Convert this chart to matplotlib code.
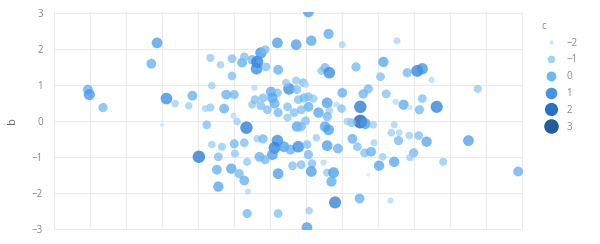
import numpy as np
import matplotlib.pyplot as plt
from matplotlib.colors import LinearSegmentedColormap, Normalize
from matplotlib.lines import Line2D

# points: a (x), b (y), c (hue/size)
a = [-3.03, -3.01, -2.82, -2.07, -2.15, -1.94, -1.82, -2.00, -1.58, -1.63,
     -1.49, 0.03, 0.31, -0.40, -0.14, 0.07, 0.50, -1.33, -1.19, -1.03,
     -0.89, -0.86, -0.75, -0.68, -0.63, -0.57, -0.69, -0.56, -0.39, -1.03,
     0.21, 0.26, 0.32, 0.69, 1.07, 1.03, 1.26, 1.40, 1.54, 1.61,
     1.74, 2.38, -1.31, -1.11, -1.00, -0.72, -0.49, -0.40, -0.24, -0.28,
     -0.14, -0.04, 0.00, -0.13, -1.33, -1.40, -1.14, -1.01, -0.75, -0.71,
     -0.63, -0.60, -0.47, -0.44, -0.54, -0.39, -0.26, -0.17, -0.11, -0.03,
     0.03, 0.10, 0.03, -0.07, 0.17, 0.29, 0.42, 0.32, 0.49, 0.50,
     0.75, 0.79, 0.86, 1.11, 1.24, 1.35, 1.44, 1.57, 1.61, 1.81,
     0.29, 0.75, 0.82, 0.93, 0.63, 0.57, 1.22, -1.38, -0.96, -0.83,
     -0.26, -0.13, -0.01, 0.26, 0.31, -0.07, -1.31, -1.17, -1.00, -0.86,
     -0.68, -0.60, -0.40, -0.44, -0.47, -0.31, -0.22, -0.11, 0.01, 0.14,
     0.29, 0.44, 0.64, 0.71, 0.81, 0.90, 0.94, 1.06, 1.01, 1.18,
     1.29, 1.28, 1.43, 1.56, 1.67, 2.25, 1.22, 1.49, 1.44, 1.90,
     2.94, -1.22, -0.99, -0.65, -0.57, -0.82, 0.03, 0.08, 0.24, -0.07,
     -0.19, -1.24, -1.04, -0.93, -0.86, -0.81, -1.22, -0.39, 0.07, 0.29,
     0.38, 0.35, 0.86, 0.40, 0.74, 1.17, 0.04, -0.82, -0.39, 0.01]

b = [0.88, 0.74, 0.38, 2.18, 1.60, 0.63, 0.49, -0.10, 0.71, 0.43,
     -0.99, 3.04, 2.43, 2.18, 2.13, 2.24, 2.13, 1.76, 1.57, 1.74,
     1.63, 1.79, 1.71, 1.65, 1.90, 1.99, 1.46, 1.51, 1.43, 1.26,
     1.40, 1.49, 1.35, 1.51, 1.65, 1.24, 2.24, 1.35, 1.40, 1.46,
     1.15, 0.90, 0.99, 0.74, 0.74, 0.93, 0.82, 0.79, 0.90, 1.07,
     1.13, 1.07, 1.01, 0.88, 0.38, 0.35, 0.35, 0.15, 0.46, 0.60,
     0.43, 0.65, 0.65, 0.49, 0.32, 0.24, 0.40, 0.24, 0.60, 0.65,
     0.68, 0.63, 0.40, 0.32, 0.24, 0.51, 0.46, 0.29, 0.35, 0.79,
     0.40, 0.76, 0.90, 0.76, 0.54, 0.46, 0.38, 0.32, 0.63, 0.40,
     0.13, -0.01, -0.07, -0.10, -0.04, -0.01, -0.10, -0.10, -0.01, -0.18,
     0.10, -0.15, 0.01, -0.15, -0.24, -0.15, -0.65, -0.71, -0.63, -0.60,
     -0.49, -0.49, -0.54, -0.74, -0.93, -0.71, -0.79, -0.71, -0.65, -0.46,
     -0.68, -0.76, -0.49, -0.71, -0.88, -0.85, -0.60, -0.99, -1.24, -0.32,
     -0.32, -0.54, -0.40, -0.40, -0.57, -0.54, -1.13, -0.88, -1.01, -1.13,
     -1.40, -0.99, -0.90, -0.99, -1.07, -1.13, -0.93, -1.18, -1.15, -1.21,
     -1.24, -1.35, -1.32, -1.46, -1.65, -1.96, -1.82, -1.46, -1.40, -1.43,
     -1.43, -1.68, -1.49, -2.26, -2.15, -2.21, -2.49, -2.57, -2.57, -2.96]

c = [0.0, 0.7, -0.3, 0.5, 0.0, 1.0, -1.0, -2.0, 0.0, -1.0,
     1.5, 0.5, 0.2, 0.5, 0.5, 0.3, -1.2, -0.8, -1.0, -0.5,
     0.0, -0.5, -0.2, 1.3, 0.8, -0.5, 1.0, -0.5, 0.0, -0.5,
     -0.8, -0.3, 1.0, -0.3, 0.3, -0.5, -1.3, -0.3, 1.2, 0.8,
     -1.5, -0.8, -1.0, 0.0, -0.3, -1.5, 0.2, -0.5, 1.0, -0.8,
     -0.8, -0.5, -1.5, -0.5, -0.8, -1.2, 0.0, -1.5, -0.8, -0.5,
     -0.5, -0.5, 0.3, 0.1, -0.5, -0.3, -0.5, -0.5, -0.5, -0.3,
     -0.5, -0.8, 0.0, -0.5, 0.3, 0.5, -1.5, -1.0, -0.6, 0.0,
     1.5, -0.2, -0.3, -0.5, -1.5, 0.2, -1.8, -0.3, -0.5, 1.3,
     -0.3, 2.4, 0.5, -1.0, -0.5, -1.0, -1.2, -0.5, -1.0, 1.5,
     -0.8, 0.3, -0.5, 0.3, 0.5, -0.3, -1.0, -0.8, -0.3, -0.5,
     -1.0, -0.3, 1.0, 1.2, 0.5, 0.5, 0.0, 1.0, -0.5, -1.0,
     0.5, 0.0, 0.0, -0.5, -0.5, 0.0, -1.2, -1.0, 0.3, -1.0,
     -1.3, -0.3, -1.0, -0.5, 0.3, 0.5, 0.3, -0.3, -1.0, -0.8,
     0.0, -0.5, -0.8, 0.0, -0.3, -0.8, -0.3, -0.5, -1.5, -0.5,
     -0.5, 0.0, 0.3, -0.3, 0.0, -1.5, 0.3, 0.5, 0.5, -0.8,
     0.5, 0.2, -2.2, 1.3, 0.0, -1.5, -1.0, -0.3, -0.5, 0.5]

legend_levels = [-2, -1, 0, 1, 2, 3]

plt.rcParams['font.family'] = ['Open Sans', 'DejaVu Sans']

norm = Normalize(vmin=-2.3, vmax=3.0)
cmap = LinearSegmentedColormap.from_list(
    'blues',
    [(0.0, '#d6ebfa'), (norm(-1), '#98cdf5'), (norm(0), '#5caff3'),
     (norm(1), '#2f8ae2'), (norm(2), '#0e63c0'), (1.0, '#0a4a91')], N=256)


def size_of(v):
    return np.clip(50 + 20 * np.asarray(v), 8, None)


fig = plt.figure(figsize=(6.0, 2.44), dpi=100)
ax = fig.add_axes([0.09, 0.057, 0.782, 0.894])

ax.scatter(a, b, s=size_of(c), c=c, cmap=cmap, norm=norm,
           alpha=0.75, linewidths=0, zorder=3)

ax.set_xlim(-3.5, 3.01)
ax.set_ylim(-3.03, 3.04)
ax.set_xticks(np.arange(-3.5, 3.01, 0.5))
ax.set_xticklabels([])
ax.set_yticks([-3, -2, -1, 0, 1, 2, 3])
ax.set_yticklabels(['\u22123', '\u22122', '\u22121', '0', '1', '2', '3'])
ax.tick_params(axis='both', length=0, labelsize=7, labelcolor='#888888', pad=8)
ax.grid(True, color='#ebebeb', linewidth=0.8, zorder=0)
for sp in ax.spines.values():
    sp.set_visible(False)
ax.set_ylabel('b', fontsize=8, color='#666666', labelpad=10)

handles = [Line2D([], [], linestyle='none', marker='o',
                  markersize=np.sqrt(size_of(v)),
                  markerfacecolor=cmap(norm(v)), markeredgewidth=0,
                  alpha=0.9)
           for v in legend_levels]
labels = [str(v).replace('-', '\u2212') for v in legend_levels]
leg = ax.legend(handles, labels, title='c', loc='upper left',
                bbox_to_anchor=(1.02, 1.0), frameon=False, fontsize=7,
                title_fontsize=7, labelcolor='#888888', labelspacing=0.6,
                handletextpad=0.6, alignment='left')
leg.get_title().set_color('#888888')

fig.savefig('out.png', dpi=100)
